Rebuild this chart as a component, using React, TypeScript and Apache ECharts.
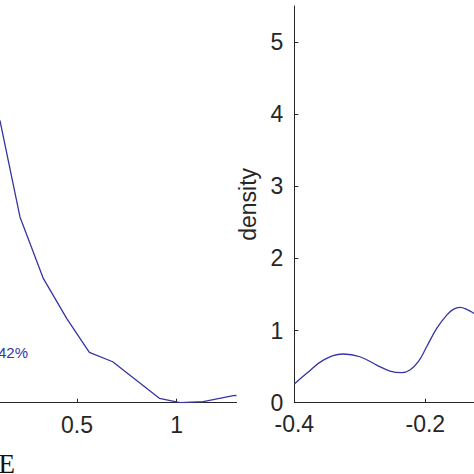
import React, { useEffect, useRef } from "react";
import * as echarts from "echarts";

// Left panel (piecewise-linear curve)
const leftX = [0.0, 0.114, 0.214, 0.331, 0.448, 0.562, 0.679, 0.913, 1.017, 1.133, 1.284, 1.3];
const leftY = [4.3, 3.906, 2.576, 1.723, 1.169, 0.698, 0.568, 0.061, 0.0, 0.014, 0.097, 0.1];
const leftTicks = [0, 0.5, 1];

// Right panel (density curve)
const rightX = [-0.4, -0.381, -0.3557, -0.3252, -0.2997, -0.2742, -0.2539, -0.2363, -0.2234, -0.2107, -0.1979, -0.1826, -0.1673, -0.1573, -0.147, -0.1368, -0.1256, -0.11];
const rightY = [0.259, 0.407, 0.591, 0.675, 0.637, 0.522, 0.439, 0.416, 0.453, 0.568, 0.776, 1.03, 1.215, 1.294, 1.321, 1.294, 1.238, 1.15];
const rightXTicks = [-0.4, -0.2, 0, 0.2];
const yTicks = [0, 1, 2, 3, 4, 5];

const annotation = "42%";
const axisLabelLeftTail = "E";
const yName = "density";

const LINE = "#3535a5";
const AX = "#262626";
const FONT = "Liberation Sans";

export default function App() {
  const ref = useRef<HTMLDivElement>(null);
  useEffect(() => {
    if (!ref.current) return;
    const chart = echarts.init(ref.current, null, { renderer: "svg" });
    const top = 6;
    const height = 396.7;
    const pxL = 199.4; // px per unit, left panel
    const pxR = 655; // px per unit, right panel
    chart.setOption({
      animation: false,
      backgroundColor: "#ffffff",
      grid: [
        { left: -22.7, top, width: 1.3 * pxL, height, containLabel: false, outerBoundsMode: "none" },
        { left: 294.3, top, width: 0.7 * pxR, height, containLabel: false, outerBoundsMode: "none" },
      ],
      xAxis: [
        {
          gridIndex: 0,
          type: "value",
          min: 0,
          max: 1.3,
          interval: 0.5,
          splitLine: { show: false },
          axisLine: { show: true, lineStyle: { color: AX, width: 1 } },
          axisTick: { show: true, inside: true, length: 4, lineStyle: { color: AX }, customValues: leftTicks },
          axisLabel: {
            customValues: leftTicks,
            fontFamily: FONT,
            fontSize: 23,
            color: AX,
            margin: 11,
          },
        },
        {
          gridIndex: 1,
          type: "value",
          min: -0.4,
          max: 0.3,
          interval: 0.2,
          splitLine: { show: false },
          axisLine: { show: true, onZero: false, lineStyle: { color: AX, width: 1 } },
          axisTick: { show: true, inside: true, length: 4, lineStyle: { color: AX }, customValues: rightXTicks },
          axisLabel: {
            customValues: rightXTicks,
            fontFamily: FONT,
            fontSize: 23,
            color: AX,
            margin: 10,
          },
        },
      ],
      yAxis: [
        {
          gridIndex: 0,
          type: "value",
          min: 0,
          max: 5.5,
          interval: 1,
          show: false,
          splitLine: { show: false },
        },
        {
          gridIndex: 1,
          type: "value",
          min: 0,
          max: 5.5,
          interval: 1,
          splitLine: { show: false },
          axisLine: { show: true, onZero: false, lineStyle: { color: AX, width: 1 } },
          axisTick: { show: true, inside: true, length: 4, lineStyle: { color: AX }, customValues: yTicks },
          axisLabel: {
            customValues: yTicks,
            fontFamily: FONT,
            fontSize: 23,
            color: AX,
            margin: 11,
          },
          name: yName,
          nameLocation: "middle",
          nameRotate: 90,
          nameGap: 31,
          nameTextStyle: { fontFamily: FONT, fontSize: 23, color: AX },
        },
      ],
      series: [
        {
          type: "line",
          xAxisIndex: 0,
          yAxisIndex: 0,
          data: leftX.map((x, i) => [x, leftY[i]]),
          showSymbol: false,
          lineStyle: { color: LINE, width: 1.3 },
          clip: true,
        },
        {
          type: "line",
          xAxisIndex: 1,
          yAxisIndex: 1,
          data: rightX.map((x, i) => [x, rightY[i]]),
          showSymbol: false,
          smooth: 0.4,
          lineStyle: { color: LINE, width: 1.3 },
          clip: true,
        },
      ],
      graphic: [
        {
          type: "text",
          x: 28,
          y: 352,
          style: {
            text: annotation,
            fontFamily: FONT,
            fontSize: 15,
            fill: LINE,
            align: "right",
            verticalAlign: "middle",
          },
        },
        {
          type: "text",
          x: -1.5,
          y: 464,
          style: {
            text: axisLabelLeftTail,
            fontFamily: "Liberation Serif",
            fontSize: 27,
            fill: "#111111",
            align: "left",
            verticalAlign: "middle",
          },
        },
      ],
    });
    return () => chart.dispose();
  }, []);
  return (
    <div
      ref={ref}
      style={{ position: "fixed", left: 0, top: 0, width: 474, height: 474, background: "#fff" }}
    />
  );
}
